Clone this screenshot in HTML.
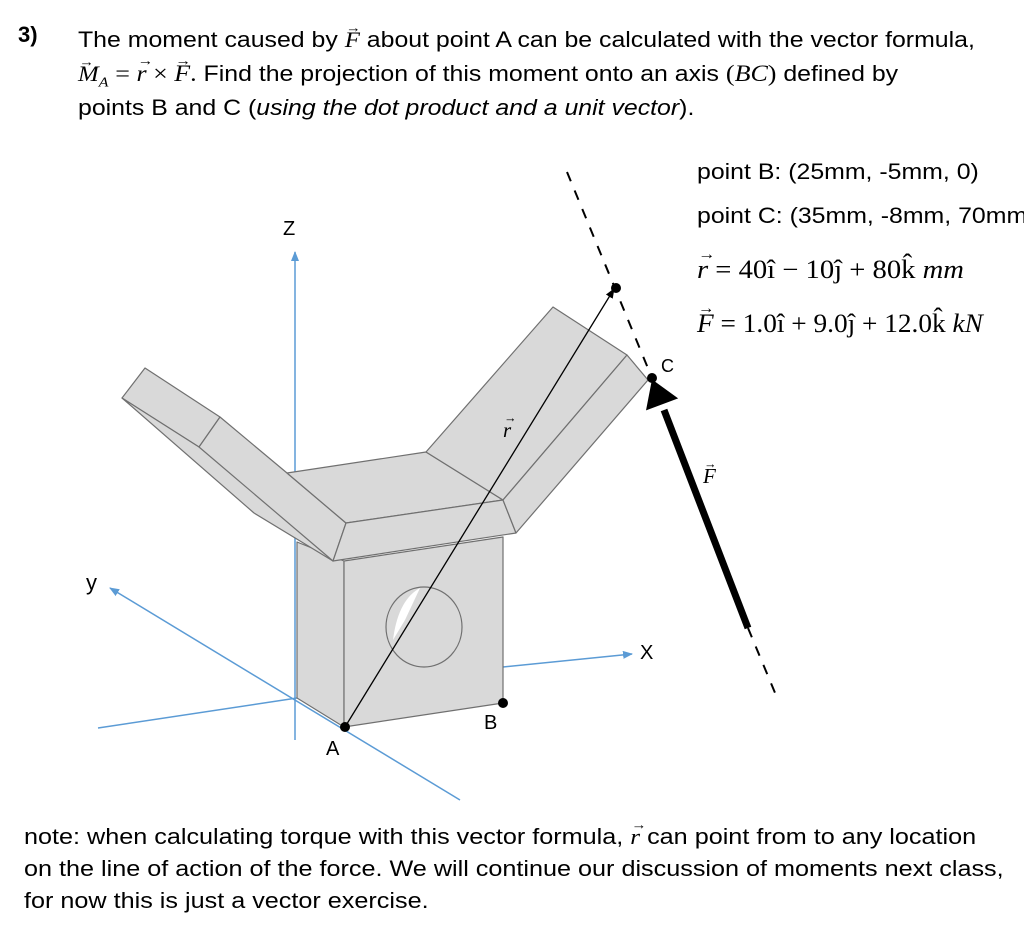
<!DOCTYPE html>
<html><head><meta charset="utf-8"><style>
body{margin:0;background:#fff;width:1024px;height:939px;overflow:hidden;position:relative;font-family:"Liberation Sans",sans-serif;color:#000}
.t{position:absolute;font-size:22px;white-space:nowrap;transform-origin:0 0;transform:scaleX(1.13)}
.m{font-family:"Liberation Serif",serif;font-size:23px}
.v{position:relative;display:inline-block;font-family:"Liberation Serif",serif;font-style:italic}
.v::after{content:"→";position:absolute;left:1px;top:-0.55em;font-size:0.6em;font-style:normal}
.nx{transform:none}
</style></head><body>
<div class="t nx" style="left:18px;top:22px;font-weight:bold">3)</div>
<div class="t" style="left:78px;top:27px">The moment caused by <span class="v">F</span> about point A can be calculated with the vector formula,</div>
<div class="t" style="left:78px;top:61px"><span class="v">M</span><sub style="font-size:14px;font-family:'Liberation Serif';font-style:italic">A</sub> <span class="m">= <span class="v">r</span> × <span class="v">F</span>.</span> Find the projection of this moment onto an axis <span class="m">(<i>BC</i>)</span> defined by</div>
<div class="t" style="left:78px;top:95px">points B and C (<i>using the dot product and a unit vector</i>).</div>

<div class="t" style="left:697px;top:159px">point B: (25mm, -5mm, 0)</div>
<div class="t" style="left:697px;top:203px">point C: (35mm, -8mm, 70mm</div>
<div class="t m" style="left:697px;top:255px;font-size:26px;transform:scaleX(1.1)"><span class="v">r</span> = 40î − 10ĵ + 80k̂ <i>mm</i></div>
<div class="t m" style="left:697px;top:309px;font-size:26px;transform:scaleX(1.05)"><span class="v">F</span> = 1.0î + 9.0ĵ + 12.0k̂ <i>kN</i></div>

<svg width="1024" height="939" style="position:absolute;left:0;top:0">
<defs>
<marker id="ab" markerWidth="10" markerHeight="8" refX="9" refY="4" orient="auto" markerUnits="userSpaceOnUse"><path d="M0,0L10,4L0,8z" fill="#5b9bd5"/></marker>
<marker id="ak" markerWidth="10" markerHeight="8" refX="9" refY="4" orient="auto" markerUnits="userSpaceOnUse"><path d="M0,0L10,4L0,8z" fill="#000"/></marker>
</defs>
<g stroke="#5b9bd5" stroke-width="1.5" fill="none">
<line x1="295" y1="740" x2="295" y2="252" marker-end="url(#ab)"/>
<line x1="460" y1="800" x2="110" y2="588" marker-end="url(#ab)"/>
<line x1="98" y1="728" x2="297" y2="698"/>
<line x1="503" y1="667" x2="632" y2="654" marker-end="url(#ab)"/>
</g>
<g fill="#d9d9d9" stroke="#707070" stroke-width="1.2" stroke-linejoin="round">
<polygon points="297,542 344,561 344,727 297,698"/>
<polygon points="344,561 503,537 503,703 344,727"/>
<polygon points="145,368 220,417 199,447 122,398"/>
<polygon points="220,417 287,473 346,523 333,561 254,513 122,398 199,447"/>
<polygon points="287,473 426,452 503,500 346,523"/>
<polygon points="346,523 503,500 516,533 333,561"/>
<polygon points="426,452 553,307 627,355 503,500"/>
<polygon points="627,355 648,380 516,533 503,500"/>
<line x1="199" y1="447" x2="333" y2="561"/>
<ellipse cx="424" cy="627" rx="38" ry="40" fill="#d9d9d9"/>
</g>
<path d="M393,640 Q398,600 420,588 L405,620 Z" fill="#fff"/>
<line x1="345" y1="727" x2="614" y2="289" stroke="#000" stroke-width="1.3" marker-end="url(#ak)"/>
<line x1="567" y1="172" x2="652" y2="378" stroke="#000" stroke-width="2" stroke-dasharray="10,10"/>
<line x1="748" y1="628" x2="778" y2="700" stroke="#000" stroke-width="2" stroke-dasharray="10,10"/>
<line x1="748" y1="628" x2="664" y2="410" stroke="#000" stroke-width="7"/>
<polygon points="653,382 648,408 675,398" fill="#000" stroke="#000" stroke-width="3"/>
<g fill="#000"><circle cx="345" cy="727" r="5"/><circle cx="503" cy="703" r="5"/><circle cx="652" cy="378" r="5"/><circle cx="616" cy="288" r="5"/></g>
</svg>
<div class="t nx" style="left:283px;top:218px;font-size:20px">Z</div>
<div class="t nx" style="left:86px;top:570px;font-size:22px">y</div>
<div class="t nx" style="left:640px;top:642px;font-size:20px">X</div>
<div class="t nx" style="left:326px;top:738px;font-size:20px">A</div>
<div class="t nx" style="left:484px;top:712px;font-size:20px">B</div>
<div class="t nx" style="left:661px;top:356px;font-size:18px">C</div>
<div class="t nx" style="left:503px;top:418px;font-size:21px"><span class="v">r</span></div>
<div class="t nx" style="left:703px;top:464px;font-size:21px"><span class="v">F</span></div>

<div class="t" style="left:24px;top:824px;transform:scaleX(1.145)">note:  when calculating torque with this vector formula, <span class="v">r</span> can point from to any location</div>
<div class="t" style="left:24px;top:856px;transform:scaleX(1.145)">on the line of action of the force.  We will continue our discussion of moments next class,</div>
<div class="t" style="left:24px;top:888px;transform:scaleX(1.145)">for now this is just a vector exercise.</div>
</body></html>
